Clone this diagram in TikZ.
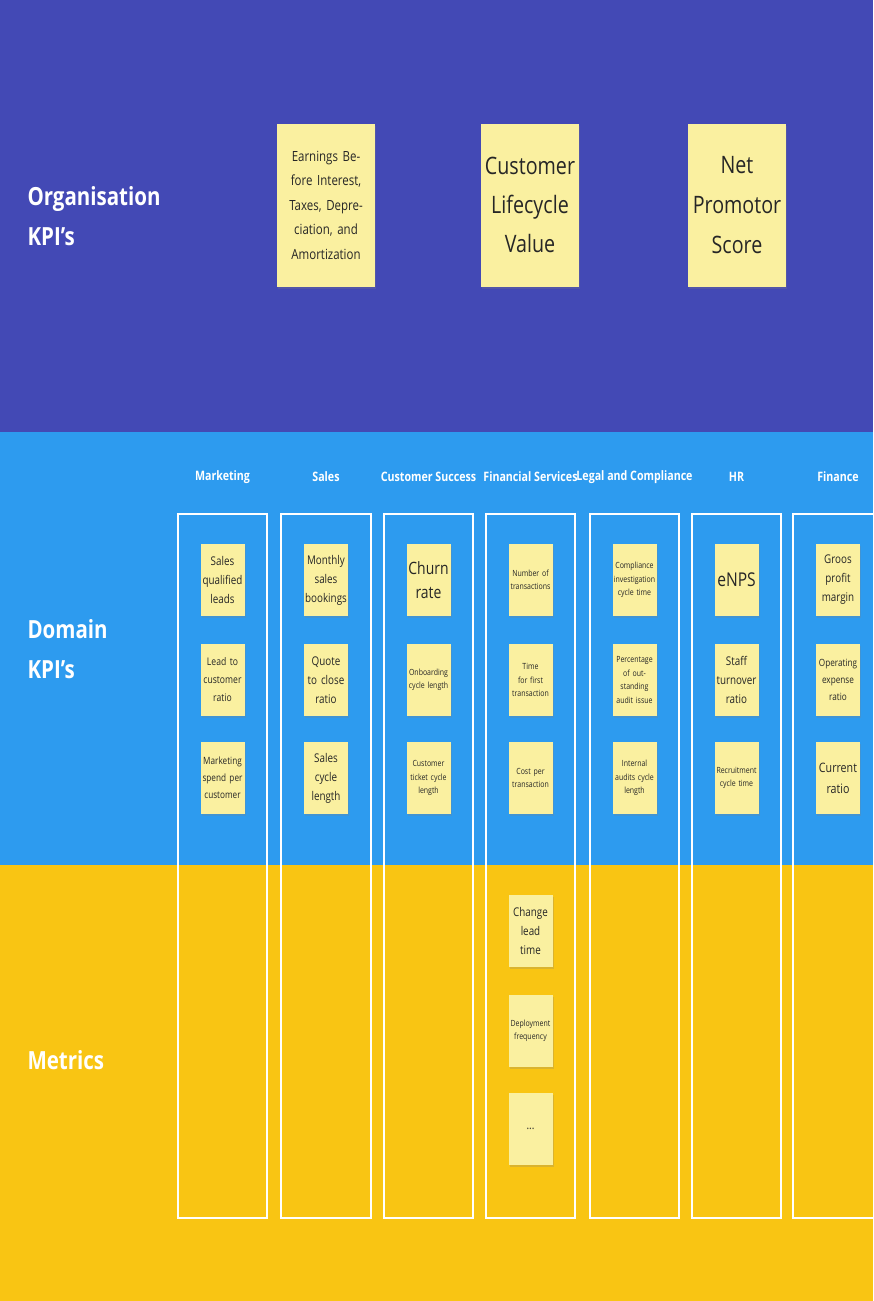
\documentclass[tikz,border=0pt]{standalone}
\usepackage{fontspec}
\usetikzlibrary{shadows}
\setmainfont{Open Sans}[FakeStretch=0.82]
\definecolor{orgB}{RGB}{67,73,181}
\definecolor{domB}{RGB}{45,155,239}
\definecolor{metY}{RGB}{249,197,19}
\definecolor{noteY}{RGB}{250,240,160}
\begin{document}
\begin{tikzpicture}[x=1pt,y=-1pt,
  note/.style={fill=noteY, minimum width=44pt, minimum height=72pt, align=center, text width=42pt, inner sep=1pt, text=black!85, drop shadow={shadow xshift=1pt,shadow yshift=-2pt,opacity=0.25}},
  bignote/.style={note, minimum width=98pt, minimum height=163pt, text width=92pt},
  col/.style={draw=white, line width=2.5pt},
  hdr/.style={text=white, font=\bfseries\fontsize{13}{15}\selectfont},
  side/.style={text=white, anchor=west, align=left, font=\bfseries\fontsize{25}{40}\selectfont}]
\useasboundingbox (0,0) rectangle (873,1301);
\clip (0,0) rectangle (873,1301);
\fill[orgB] (0,0) rectangle (873,432);
\fill[domB] (0,432) rectangle (873,865);
\fill[metY] (0,865) rectangle (873,1301);
\node[side] (lo) at (24,216) {Organisation\\KPI's};
\node[side] (ld) at (24,649) {Domain\\KPI's};
\node[side] (lm) at (24,1060) {Metrics};
% org notes
\node[bignote, font=\fontsize{14}{24.5}\selectfont] (o1) at (326,205) {Earnings Before Interest, Taxes, Depreciation, and Amortization};
\node[bignote, font=\fontsize{24}{39}\selectfont] (o2) at (530,205) {Customer Lifecycle Value};
\node[bignote, font=\fontsize{24}{40}\selectfont] (o3) at (737,205) {Net Promotor Score};
% columns
\foreach \n/\a/\b in {c1/178/267, c2/281/371, c3/384/473, c4/486/575, c5/590/679, c6/692/781, c7/793/890}{
  \draw[col] (\a,514) rectangle (\b,1218);
}
\foreach \n/\x/\t in {h1/222.5/Marketing, h2/326/Sales, h3/428.5/Customer Success, h4/530.5/Financial Services, h5/634.5/Legal and Compliance, h6/736.5/HR, h7/838/Finance}{
  \node[hdr] (\n) at (\x,477) {\t};
}
\tikzset{s/.style={font=\fontsize{12}{19}\selectfont}, t/.style={font=\fontsize{8.5}{13.5}\selectfont}, b/.style={font=\fontsize{17}{24}\selectfont}}
\node[note,s] (m1) at (222.5,580) {Sales qualified leads};
\node[note,s,font=\fontsize{10.5}{18}\selectfont] (m2) at (222.5,680) {Lead to customer ratio};
\node[note,s,font=\fontsize{10}{17}\selectfont] (m3) at (222.5,778) {Marketing spend per customer};
\node[note,s] (s1) at (326,580) {Monthly sales bookings};
\node[note,s] (s2) at (326,680) {Quote to close ratio};
\node[note,s] (s3) at (326,778) {Sales cycle length};
\node[note,b] (cs1) at (428.5,580) {Churn rate};
\node[note,t] (cs2) at (428.5,680) {Onboarding cycle length};
\node[note,t] (cs3) at (428.5,778) {Customer ticket cycle length};
\node[note,t] (f1) at (530.5,580) {Number of transactions};
\node[note,t] (f2) at (530.5,680) {Time for first transaction};
\node[note,t] (f3) at (530.5,778) {Cost per transaction};
\node[note,s] (f4) at (530.5,931) {Change lead time};
\node[note,t] (f5) at (530.5,1031) {Deployment frequency};
\node[note,s] (f6) at (530.5,1129) {...};
\node[note,t] (l1) at (634.5,580) {Compliance investigation cycle time};
\node[note,t] (l2) at (634.5,680) {Percentage of outstanding audit issue};
\node[note,t] (l3) at (634.5,778) {Internal audits cycle length};
\node[note,font=\fontsize{19}{24}\selectfont] (hr1) at (736.5,580) {eNPS};
\node[note,s] (hr2) at (736.5,680) {Staff turnover ratio};
\node[note,t] (hr3) at (736.5,778) {Recruitment cycle time};
\node[note,s] (fi1) at (838,580) {Groos profit margin};
\node[note,s,font=\fontsize{10}{17}\selectfont] (fi2) at (838,680) {Operating expense ratio};
\node[note,s,font=\fontsize{13}{21}\selectfont] (fi3) at (838,778) {Current ratio};
\end{tikzpicture}
\end{document}
